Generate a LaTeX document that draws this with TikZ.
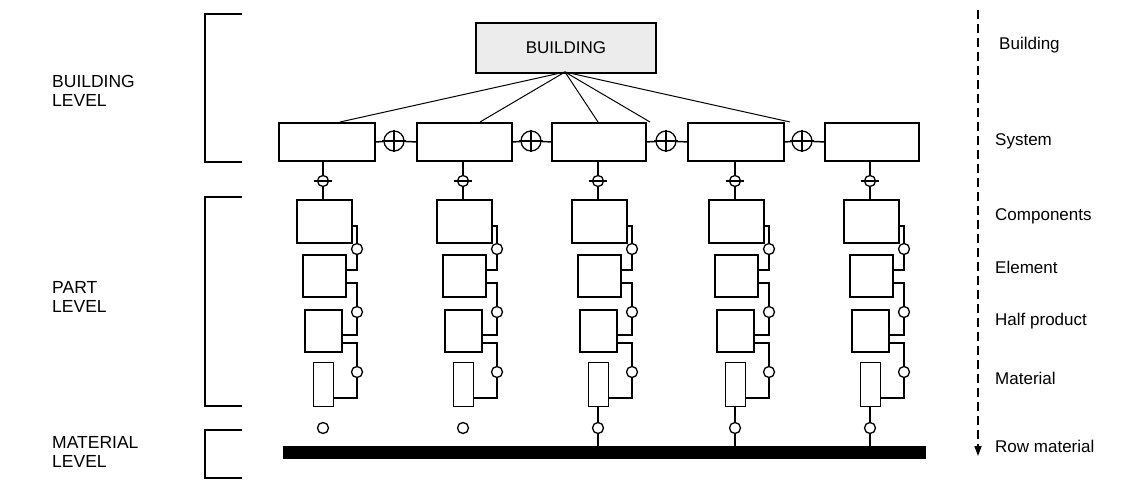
\documentclass[tikz,border=0pt]{standalone}
\usepackage{fontspec}
\setmainfont{Liberation Sans}
\usetikzlibrary{patterns,arrows.meta}
\begin{document}
\begin{tikzpicture}[x=1pt,y=-1pt,
  lbl/.style={font=\fontsize{17}{19}\selectfont,anchor=west,inner sep=0},
  blbl/.style={font=\fontsize{17.5}{19}\selectfont,align=left,anchor=west,inner sep=0},
  bx/.style={draw,line width=1.8pt,inner sep=0,anchor=north west},
  ln/.style={line width=1.5pt},
  jc/.style={circle,draw,line width=1.3pt,inner sep=0,minimum size=#1}]
\useasboundingbox (0,0) rectangle (1124,494);
% building
\node[bx,fill=gray!15,minimum width=180pt,minimum height=50pt] (b) at (475,22) {};
\node[font=\fontsize{17}{19}\selectfont] at (b.center) {BUILDING};
% system boxes
\foreach \i/\xa/\xb in {1/278/374,2/416/511,3/551/645,4/687/783,5/824/918}{
  \node[bx,minimum width={\xb-\xa},minimum height=38pt] (s\i) at (\xa,122) {};
}
\foreach \i/\t in {1/340,2/480,3/598,4/650,5/790}{
  \coordinate (t\i) at (\t,122);
  \draw[line width=1pt] (565,72) -- (t\i);
}
\foreach \a/\b/\x in {1/2/394,2/3/531,3/4/666,4/5/802}{
  \node[jc=20pt] (h\a) at (\x,141) {};
  \draw[ln] (s\a.east) -- (h\a) -- (s\b.west);
  \draw[line width=1.3pt] (h\a.north) -- (h\a.south);
  \draw[line width=1.3pt] (\x-12,141) -- (\x+12,141);
}
% columns
\foreach \i/\cx in {1/323,2/463,3/598,4/735,5/870}{
  \node[bx,minimum width=55pt,minimum height=43pt] (c\i) at (\cx-27,199) {};
  \node[bx,minimum width=43pt,minimum height=42pt] (e\i) at (\cx-21,254) {};
  \node[bx,minimum width=37pt,minimum height=42pt] (p\i) at (\cx-19,309) {};
  \node[bx,line width=1.3pt,minimum width=20pt,minimum height=44pt] (m\i) at (\cx-10,362) {};
  \node[jc=11pt] (v\i) at (\cx,181) {};
  \draw[ln] (v\i|-s\i.south) -- (v\i) -- (v\i|-c\i.north);
  \draw[line width=1.3pt] (\cx-9,181) -- (\cx+9,181);
  \node[jc=11pt] (k\i) at (\cx+34,249) {};
  \node[jc=11pt] (l\i) at (\cx+34,312) {};
  \node[jc=11pt] (n\i) at (\cx+34,372) {};
  \draw[ln] (c\i.east|-0,226) -| (k\i) |- (e\i.east|-0,270);
  \draw[ln] (e\i.east|-0,283) -| (l\i) |- (p\i.east|-0,335);
  \draw[ln] (p\i.east|-0,343) -| (n\i) |- (m\i.east|-0,398);
  \node[jc=11pt] (r\i) at (\cx,428) {};
}
\node[draw,fill=black,minimum width=642pt,minimum height=12pt,inner sep=0,anchor=north west] (bar) at (283,446) {};
\foreach \i in {3,4,5}{
  \draw[ln] (r\i|-m\i.south) -- (r\i) -- (r\i|-bar.north);
}
% left brackets
\draw[line width=1.3pt] (242,14) -- (205,14) -- (205,162) -- (242,162);
\draw[line width=1.3pt] (242,197) -- (205,197) -- (205,406) -- (242,406);
\draw[line width=1.3pt] (242,430) -- (205,430) -- (205,478) -- (242,478);
\node[blbl] (L1) at (52,91) {BUILDING\\LEVEL};
\node[blbl] (L2) at (52,297) {PART\\LEVEL};
\node[blbl] (L3) at (52,452) {MATERIAL\\LEVEL};
% right scale
\coordinate (top) at (978,10);
\coordinate (bot) at (978,456);
\draw[line width=1.6pt,dash pattern=on 9pt off 5pt,-{Triangle[length=10pt,width=7pt]}] (top) -- (bot);
\node[lbl] at (999,45) {Building};
\node[lbl] at (995,141) {System};
\node[lbl] at (995,216) {Components};
\node[lbl] at (995,267) {Element};
\node[lbl] at (995,321) {Half product};
\node[lbl] at (995,378) {Material};
\node[lbl] at (995,446) {Row material};
\end{tikzpicture}
\end{document}
